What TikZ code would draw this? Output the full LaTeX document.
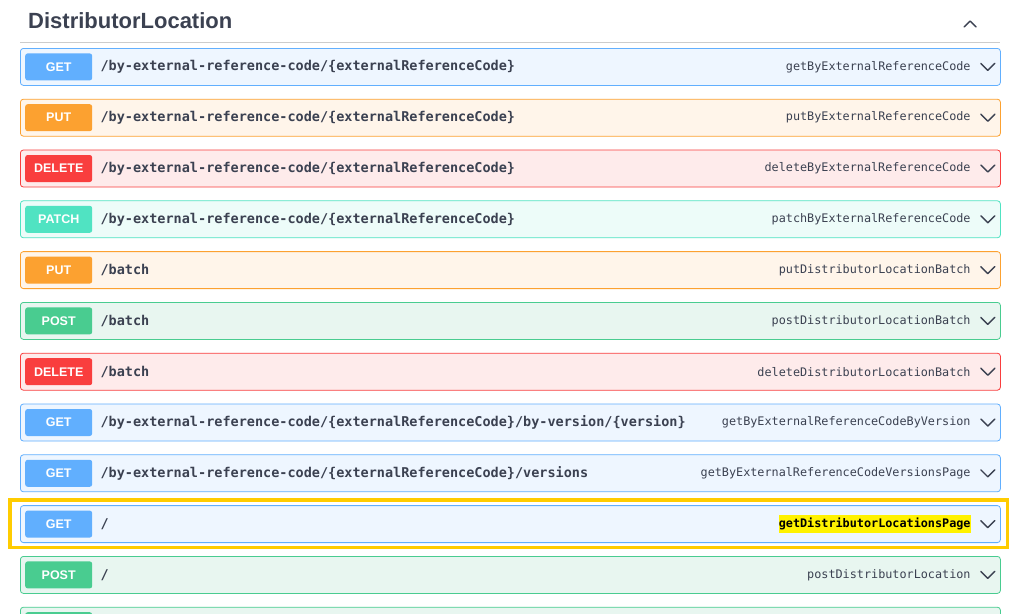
\documentclass[tikz,border=0pt]{standalone}
\usepackage{fontspec}
\setmainfont{Liberation Sans}
\setmonofont{DejaVu Sans Mono}
\usetikzlibrary{positioning}
\definecolor{getc}{HTML}{61AFFE}\definecolor{getbg}{HTML}{EEF6FF}
\definecolor{putc}{HTML}{FCA130}\definecolor{putbg}{HTML}{FFF5EA}
\definecolor{delc}{HTML}{F93E3E}\definecolor{delbg}{HTML}{FEEBEB}
\definecolor{patchc}{HTML}{50E3C2}\definecolor{patchbg}{HTML}{EDFCF9}
\definecolor{postc}{HTML}{49CC90}\definecolor{postbg}{HTML}{E8F6F0}
\definecolor{txt}{HTML}{3B4151}
\definecolor{hilite}{HTML}{FFCC00}
\tikzset{
  row/.style={draw=#1c, fill=#1bg, rounded corners=3pt, line width=0.8pt,
    minimum width=980pt, minimum height=37pt, inner sep=0pt, anchor=north west},
  badge/.style={fill=#1c, rounded corners=2.5pt, minimum width=67pt, minimum height=27pt,
    inner sep=0pt, text=white, font=\fontsize{12.5pt}{14pt}\selectfont\bfseries},
  path/.style={anchor=west, text=txt, inner sep=0pt, font=\ttfamily\fontsize{13.5pt}{15pt}\selectfont\bfseries},
  opid/.style={anchor=east, text=txt, inner sep=0pt, font=\ttfamily\fontsize{11.8pt}{14pt}\selectfont},
  chev/.style={line width=1.4pt, txt, line cap=round, line join=round}
}
\begin{document}
\begin{tikzpicture}[x=1pt,y=-1pt]
\useasboundingbox (0,0) rectangle (1024,613);
\clip (0,0) rectangle (1024,613);
\fill[white] (0,0) rectangle (1024,613);
% header
\node[anchor=west, inner sep=0pt, text=txt, font=\fontsize{22pt}{26pt}\selectfont\bfseries] (title) at (28,21) {DistributorLocation};
\draw[chev] (964,27) -- (970,21) -- (976,27);
\draw[gray!40, line width=0.8pt] (20,42.5) -- (1000,42.5);
% operations
\foreach \i/\m/\c/\p/\o in {
  0/GET/get/{/by-external-reference-code/\{externalReferenceCode\}}/getByExternalReferenceCode,
  1/PUT/put/{/by-external-reference-code/\{externalReferenceCode\}}/putByExternalReferenceCode,
  2/DELETE/del/{/by-external-reference-code/\{externalReferenceCode\}}/deleteByExternalReferenceCode,
  3/PATCH/patch/{/by-external-reference-code/\{externalReferenceCode\}}/patchByExternalReferenceCode,
  4/PUT/put/{/batch}/putDistributorLocationBatch,
  5/POST/post/{/batch}/postDistributorLocationBatch,
  6/DELETE/del/{/batch}/deleteDistributorLocationBatch,
  7/GET/get/{/by-external-reference-code/\{externalReferenceCode\}/by-version/\{version\}}/getByExternalReferenceCodeByVersion,
  8/GET/get/{/by-external-reference-code/\{externalReferenceCode\}/versions}/getByExternalReferenceCodeVersionsPage,
  9/GET/get/{/}/{\colorbox{yellow}{\kern-3pt\textbf{\color{black}getDistributorLocationsPage}\kern-3pt}},
  10/POST/post/{/}/postDistributorLocation,
  11/{}/post/{}/{}}{
  \pgfmathsetmacro\yt{48+50.8*\i}
  \node[row=\c] (r\i) at (20,\yt) {};
  \node[badge=\c, right=5pt of r\i.west] (b\i) {\m};
  \node[path, right=8pt of b\i.east] (p\i) {\p};
  \coordinate[left=30pt of r\i.east] (e\i);
  \node[opid] (o\i) at (e\i) {\o};
  \draw[chev] ([xshift=10pt,yshift=3.5pt]e\i) -- ([xshift=17pt,yshift=-3.5pt]e\i) -- ([xshift=24pt,yshift=3.5pt]e\i);
}
% highlight
\draw[hilite, line width=3.5pt] (10,500) rectangle (1007.5,547.5);
\end{tikzpicture}
\end{document}
